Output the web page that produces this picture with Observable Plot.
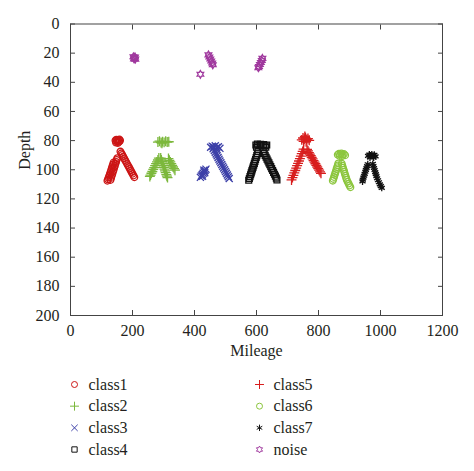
<!DOCTYPE html>
<html><head><meta charset="utf-8">
<script src="https://cdn.jsdelivr.net/npm/d3@7"></script>
<script src="https://cdn.jsdelivr.net/npm/@observablehq/plot@0.6"></script>
<style>
body{margin:0;background:#fff}
#chart svg{display:block}
#chart svg, #chart svg text{font-family:"Liberation Serif","DejaVu Serif",serif !important;}
</style>
</head><body><div id="chart"></div><script>
const classNames = ["class1","class2","class3","class4","class5","class6","class7","noise"];
const xTicks = [0,200,400,600,800,1000,1200];
const yTicks = [0,20,40,60,80,100,120,140,160,180,200];

const class1 = [
  [145,80],[148,79.3],[151,80.6],[154,79.6],[157,80.8],[160,80],[147,81.4],[153,81.6],[158,79.2],[150,79.8],
  [151,92],[149,93.2],[147,94.6],[145,95.8],[143,97.4],[141,98.6],[139,100.1],[137,101.3],[135,102.9],[133,104.2],[131,105.6],[129,107],
  [139,95],[137,96.4],[135,97.6],[133,99],[131,100.3],[129,101.7],[127,103],[125,104.2],[123,105.4],[121,106.6],[119,107.6],
  [161,87.5],[164,88.7],[167,89.8],[170,91],[173,92.2],[176,93.4],[179,94.5],[182,95.7],[185,96.9],[188,98],[191,99.2],[194,100.4],[197,101.6],[200,102.8],[203,104],[206,105.2]
];
const class2 = [
  [282,81],[287,80.4],[292,81.3],[297,80.7],[302,81.2],[307,80.5],[312,81],[317,80.8],[295,81.8],
  [285,92],[282,93.3],[279,94.6],[276,95.8],[273,97.2],[270,98.5],[267,99.8],[264,101.2],[261,102.4],[258,103.7],[256,104.6],
  [291,92],[293,93.3],[295,94.5],[297,95.8],[299,97],[301,98.3],[303,99.6],[305,100.8],[307,102],[309,103.3],[311,104.4],[313,105.4],
  [316,92.3],[319,93.5],[322,94.6],[325,95.8],[328,97],[331,98.1],[334,99.2],[337,100.3]
];
const class3 = [
  [452,84.6],[457,83.8],[462,84.4],[467,83.6],[472,84.8],[477,84.2],[482,85.3],[460,85.6],[470,85.8],
  [464,86.8],[467,88],[470,89.2],[473,90.4],[476,91.6],[479,92.8],[482,94],[485,95.2],[488,96.4],[491,97.6],[494,98.8],[497,100],[500,101.2],[503,102.4],[506,103.6],[509,104.8],[512,106],
  [437,99.6],[434,100.5],[431,101.4],[428,102.4],[425,103.3],[422,104.2],[419,105.2],[430,100.3],[426,104.4],[433,102]
];
const class4 = [
  [598,83],[603,82.4],[608,83.2],[613,82.6],[618,83.4],[623,82.8],[628,83.5],[633,83],[600,84.5],[630,84.5],
  [605,87.5],[603,89],[601,90.3],[599,91.6],[597,93],[595,94.3],[593,95.6],[591,96.9],[589,98.2],[587,99.5],[585,100.8],[583,102.1],[581,103.4],[579,104.7],[577,106],[575,107.2],
  [622,87.5],[625,88.8],[628,90.1],[631,91.4],[634,92.7],[637,94],[640,95.3],[643,96.6],[646,97.9],[649,99.2],[652,100.5],[655,101.8],[658,103.1],[661,104.4],[664,105.7],[666,107]
];
const class5 = [
  [746,79.5],[750,78.2],[754,79],[758,78],[762,79.3],[766,78.6],[770,79.8],[752,80.6],[760,80.8],[756,77.2],
  [752,85.8],[749,87.4],[746,89],[743,90.7],[740,92.3],[737,94],[734,95.6],[731,97.2],[728,98.9],[725,100.5],[722,102.1],[719,103.8],[716,105.4],[713,107],
  [763,86],[766,87.1],[769,88.2],[772,89.3],[775,90.4],[778,91.5],[781,92.6],[784,93.7],[787,94.8],[790,95.9],[793,97],[796,98.1],[799,99.2],[802,100.3],[805,101.4],[808,102.5]
];
const class6 = [
  [862,89.7],[866,89],[870,89.5],[874,88.8],[878,89.6],[882,89.2],[886,90],[868,90.6],[876,90.7],
  [864,95.6],[862,97],[860,98.3],[858,99.6],[856,101],[854,102.3],[852,103.6],[850,105],[848,106.3],[846,107.5],
  [875,95.8],[877,97.2],[879,98.6],[881,100],[883,101.3],[885,102.7],[887,104.1],[889,105.5],[891,106.8],[894,108.2],[897,109.5],[900,110.8],[903,112]
];
const class7 = [
  [960,90.5],[964,89.6],[968,90.3],[972,89.5],[976,90.4],[980,89.8],[984,90.8],[966,91.5],[978,91.6],
  [959,96.2],[957,97.5],[955,98.8],[953,100.1],[951,101.4],[949,102.8],[947,104.1],[945,105.4],[943,106.8],[942,108],
  [975,96],[977,97.4],[979,98.8],[981,100.2],[983,101.6],[985,103],[987,104.4],[989,105.8],[992,107.2],[995,108.6],[998,110],[1001,111.2],[1004,112.4]
];
const noise = [
  [203,22.5],[206,23.3],[209,24.1],[205,24],[208,22.6],
  [445,21.2],[448,22.6],[451,24],[454,25.4],[457,26.8],[459,28],
  [419,34.5],
  [619,23.6],[617,25],[614,26.4],[611,27.8],[608,29.2],[606,30]
];

const series = [class1, class2, class3, class4, class5, class6, class7, noise];
const data = series.flatMap((pts, i) => pts.map(([x, y]) => ({x, y, cls: classNames[i]})));

const hexagram = {
  draw(ctx, size) {
    const R = Math.sqrt(size / Math.PI) * 1.15, r = R * 0.577;
    for (let i = 0; i < 12; i++) {
      const a = -Math.PI / 2 + i * Math.PI / 6;
      const rr = i % 2 ? r : R;
      const px = rr * Math.cos(a), py = rr * Math.sin(a);
      i ? ctx.lineTo(px, py) : ctx.moveTo(px, py);
    }
    ctx.closePath();
  }
};
const symbolRange = ["circle","plus","times","square","plus","circle","asterisk", hexagram];
const colorRange = ["#cc1515","#7cb83c","#3d40a8","#111111","#d81e1e","#8cc63e","#111111","#a0399e"];
const font = "Liberation Serif";
const fmt = d => String(d);

const chart = Plot.plot({
  width: 474, height: 365,
  marginLeft: 70, marginRight: 32, marginTop: 23.5, marginBottom: 50,
  style: {fontFamily: font, fontSize: "16px", color: "#231f20", background: "#fff"},
  x: {domain: [0, 1200]},
  y: {domain: [0, 200], reverse: true},
  symbol: {domain: classNames, range: symbolRange},
  color: {domain: classNames, range: colorRange},
  marks: [
    Plot.axisX(xTicks, {anchor: "bottom", tickSize: -5, tickPadding: 14, tickFormat: fmt, label: null, stroke: "#444", fontFamily: font, fontSize: 16}),
    Plot.axisX(xTicks, {anchor: "top", tickSize: -5, tickFormat: () => "", label: null, stroke: "#444"}),
    Plot.axisY(yTicks, {anchor: "left", tickSize: -5, tickPadding: 16, tickFormat: fmt, label: null, stroke: "#444", fontFamily: font, fontSize: 16}),
    Plot.axisY(yTicks, {anchor: "right", tickSize: -5, tickFormat: () => "", label: null, stroke: "#444"}),
    Plot.frame({stroke: "#444"}),
    Plot.dot(data, {x: "x", y: "y", symbol: "cls", stroke: "cls", r: 3.3, strokeWidth: 1.3}),
    Plot.text(["Mileage"], {frameAnchor: "bottom", dy: 40, fontSize: 16, fontFamily: font}),
    Plot.text(["Depth"], {frameAnchor: "left", rotate: -90, dx: -46, fontSize: 16, fontFamily: font})
  ]
});

const legend = Plot.plot({
  width: 474, height: 106, margin: 0,
  style: {fontFamily: font, fontSize: "16px", color: "#231f20", background: "#fff"},
  x: {type: "linear", domain: [0, 1], range: [74, 259], axis: null},
  y: {type: "linear", domain: [0, 3], range: [19, 84], axis: null},
  symbol: {domain: classNames, range: symbolRange},
  color: {domain: classNames, range: colorRange},
  marks: [
    Plot.dot(classNames, {x: (d, i) => Math.floor(i / 4), y: (d, i) => i % 4, symbol: d => d, stroke: d => d, r: 3, strokeWidth: 1}),
    Plot.text(classNames, {x: (d, i) => Math.floor(i / 4), y: (d, i) => i % 4, text: d => d, dx: 14, textAnchor: "start", fontSize: 16, fontFamily: font, fill: "#231f20"})
  ]
});

const el = document.getElementById("chart");
el.append(chart, legend);
</script></body></html>
